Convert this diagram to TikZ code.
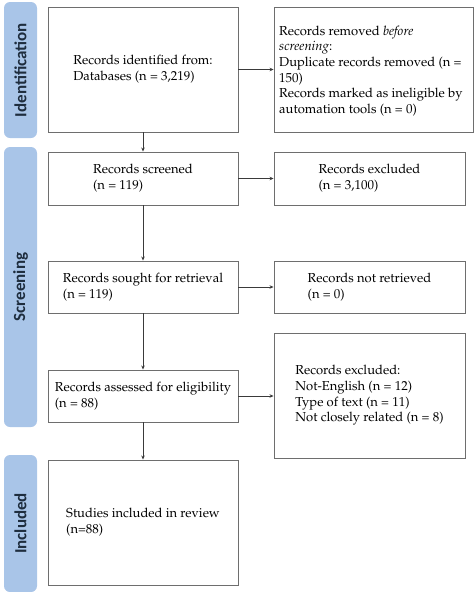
\documentclass[tikz,border=0pt]{standalone}
\usepackage[T1]{fontenc}
\usepackage{fontspec}
\newfontfamily\barfont{Carlito}
\newcommand\palfont{\fontencoding{T1}\fontfamily{ppl}\selectfont}
\usetikzlibrary{arrows.meta}
\definecolor{barblue}{HTML}{A9C5E8}
\definecolor{bartext}{HTML}{1E2D3E}
\definecolor{boxline}{HTML}{6E6E6E}
\definecolor{arrline}{HTML}{3A3A3A}
\tikzset{
  bar/.style={fill=barblue, rounded corners=6pt, rotate=90, minimum height=33pt,
    inner sep=0pt, text=bartext, font=\barfont\bfseries\fontsize{17}{20}\selectfont},
  box/.style={draw=boxline, line width=0.9pt, fill=white, inner sep=0pt,
    align=left, font=\palfont\fontsize{13}{15.7}\selectfont},
  lbox/.style={box, minimum width=190pt},
  rbox/.style={box, minimum width=191pt},
  txt/.style={inner sep=0pt, align=left, font=\palfont\fontsize{13}{15.7}\selectfont},
  arr/.style={draw=arrline, line width=0.8pt, -{Stealth[length=4pt,width=3.5pt]}}
}
\begin{document}
\begin{tikzpicture}[x=1pt,y=-1pt]
\useasboundingbox (0,0) rectangle (474,592);
% phase bars
\node[bar, minimum width=136pt] (idbar) at (20.5,70) {Identification};
\node[bar, minimum width=280pt] (scbar) at (20.5,287) {Screening};
\node[bar, minimum width=137pt] (inbar) at (20.5,523.5) {Included};
% left column
\node[lbox, minimum height=125pt] (b1) at (143,69.5) {Records identified from:\\Databases (n = 3,219)};
\node[lbox, minimum height=53pt] (b2) at (143,178.5) {Records screened\\(n = 119)\hphantom{ened}};
\node[lbox, minimum height=52pt] (b3) at (143,287) {Records sought for retrieval\\(n = 119)\hphantom{ght for retrieval}};
\node[lbox, minimum height=52pt] (b4) at (143,396) {Records assessed for eligibility\\(n = 88)\hphantom{sed for eligibility}};
\node[lbox, minimum height=125pt] (b5) at (143,522.5) {Studies included in review\\(n=88)\hphantom{ncluded in review}};
% right column
\node[box, minimum width=199pt, minimum height=125pt] (r1) at (373.5,69.5) {};
\node[txt, anchor=west] (r1t) at (279,71) {Records removed \textit{before}\\\textit{screening}:\\Duplicate records removed (n =\\150)\\Records marked as ineligible by\\automation tools (n = 0)};
\node[rbox, minimum height=53pt] (r2) at (369.5,178.5) {Records excluded\\(n = 3,100)\hphantom{cluded}};
\node[rbox, minimum height=52pt] (r3) at (369.5,287) {Records not retrieved\\(n = 0)\hphantom{ot retrieved}};
\node[rbox, minimum height=125pt] (r4) at (369.5,395.5) {Records excluded:\\Not-English (n = 12)\\Type of text (n = 11)\\Not closely related (n = 8)};
% connectors
\draw[arr] (b1) -- (b2);
\draw[arr] (b2) -- (b3);
\draw[arr] (b3) -- (b4);
\draw[arr] (b4) -- (b5);
\draw[arr] (b1.east) -- (b1.east -| r1.west);
\draw[arr] (b2) -- (r2);
\draw[arr] (b3) -- (r3);
\draw[arr] (b4.east) -- (b4.east -| r4.west);
\end{tikzpicture}
\end{document}
